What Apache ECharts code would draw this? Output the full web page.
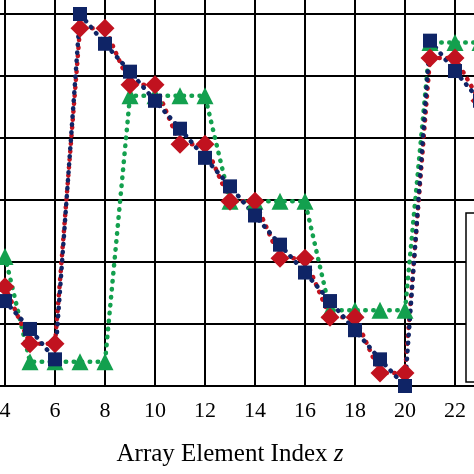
<!DOCTYPE html>
<html><head><meta charset="utf-8">
<script src="https://cdn.jsdelivr.net/npm/echarts@6/dist/echarts.min.js"></script>
<style>html,body{margin:0;padding:0;background:#fff}#c{width:474px;height:474px}</style>
</head><body><div id="c"></div>
<script>
const xIdx = [4,5,6,7,8,9,10,11,12,13,14,15,16,17,18,19,20,21,22,23];
const blueVals = [1.37,0.92,0.43,6.0,5.52,5.07,4.6,4.15,3.68,3.22,2.75,2.28,1.83,1.37,0.9,0.43,0.0,5.57,5.08,4.6];
const redVals = [1.6,0.68,0.68,5.77,5.77,4.86,4.86,3.9,3.9,2.98,2.98,2.06,2.06,1.11,1.11,0.21,0.21,5.29,5.29,4.6];
const greenVals = [2.09,0.39,0.39,0.39,0.39,4.68,4.68,4.68,4.68,2.98,2.98,2.98,2.98,1.22,1.22,1.22,1.22,5.54,5.54,5.54];
const xTicks = [2,4,6,8,10,12,14,16,18,20,22,24];
const chart = echarts.init(document.getElementById('c'));
function ser(vals, color, symbol, size){
  return {type:'line', data: xIdx.map((x,i)=>[x, vals[i]]), symbol, symbolSize:size,
    itemStyle:{color}, lineStyle:{color, width:4.5, type:[0.5,7.5], cap:'round'}, clip:false};
}
chart.setOption({
  animation:false,
  grid:{left:-45, width:550, top:-48, height:434, containLabel:false, outerBoundsMode:'none'},
  xAxis:{type:'value', min:2, max:24, interval:2,
    axisLine:{lineStyle:{color:'#000', width:2}}, axisTick:{show:false},
    splitLine:{lineStyle:{color:'#000', width:2}},
    axisLabel:{color:'#000', fontFamily:'Liberation Serif', fontSize:22, margin:14,
      formatter:v=>xTicks.includes(v)?String(v):''},
    name:'{a|Array Element Index }{b|z}', nameLocation:'middle', nameGap:56,
    nameTextStyle:{rich:{a:{fontFamily:'Liberation Serif', fontSize:25, color:'#000'},
      b:{fontFamily:'Liberation Serif', fontSize:25, fontStyle:'italic', color:'#000'}}}},
  yAxis:{type:'value', min:0, max:7, interval:1, axisLabel:{show:false}, axisTick:{show:false},
    axisLine:{show:false}, splitLine:{lineStyle:{color:'#000', width:2}}},
  graphic:[{type:'rect', shape:{x:466, y:213, width:20, height:169}, style:{fill:'#fff', stroke:'#000', lineWidth:1.5}, z:100}],
  series:[
    ser(greenVals,'#13a04e','triangle',17),
    ser(redVals,'#c1121f','diamond',19),
    ser(blueVals,'#0f2466','rect',14)
  ]
});
</script></body></html>
